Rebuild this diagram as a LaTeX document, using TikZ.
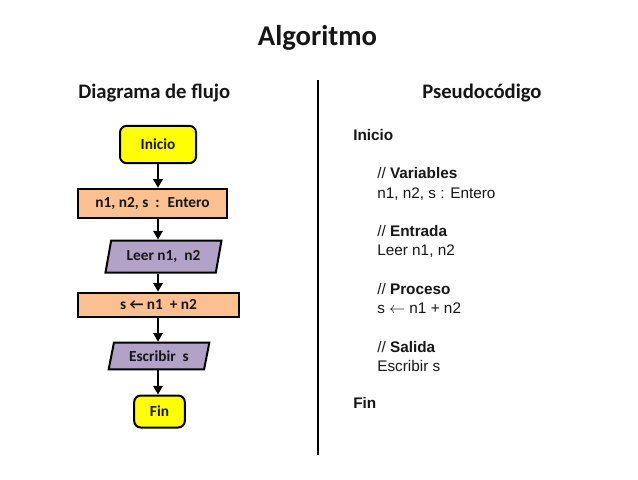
\documentclass[tikz,border=0pt]{standalone}
\usepackage{fontspec}
\setmainfont{Carlito}
\newfontfamily\pseudofont{Liberation Sans}
\usetikzlibrary{positioning, arrows.meta, shapes.geometric}
\definecolor{amarillo}{RGB}{255,255,0}
\definecolor{salmon}{RGB}{250,192,144}
\definecolor{lila}{RGB}{179,162,199}
\definecolor{tinta}{RGB}{22,22,22}
\tikzset{
  >={Triangle[length=6.5pt, width=7pt]},
  bloque/.style={draw, line width=1.5pt, inner sep=2pt, text=tinta, font=\fontsize{11.5}{14}\selectfont\bfseries},
  terminal/.style={bloque, rounded corners=5pt, fill=amarillo},
  proceso/.style={bloque, fill=salmon},
  entsal/.style={bloque, trapezium, trapezium left angle=72, trapezium right angle=108, trapezium stretches body, fill=lila},
  titulo/.style={anchor=base west, inner sep=0pt, text=tinta, font=\fontsize{15.5}{18}\selectfont\bfseries},
  codigo/.style={anchor=base west, inner sep=0pt, text=tinta, font=\pseudofont\fontsize{11.5}{14}\selectfont},
  flecha/.style={->, line width=1.7pt},
}

\begin{document}
\begin{tikzpicture}[x=0.75pt, y=-0.75pt]
  \useasboundingbox (0,0) rectangle (638,479);

  % titulos
  \node[anchor=base, inner sep=0pt, text=tinta, font=\fontsize{21.5}{24}\selectfont\bfseries] (alg) at (317.5,45) {Algoritmo};
  \node[titulo] (diag) at (78,98) {Diagrama de flujo};
  \node[titulo] (pseudo) at (422,98) {Pseudocódigo};

  % separador
  \coordinate (sepa) at (318,80);
  \coordinate (sepb) at (318,455);
  \draw[line width=0.9pt] (sepa) -- (sepb);

  % diagrama de flujo
  \node[terminal, minimum width=57pt, minimum height=28pt] (ini) at (158,144.5) {Inicio};
  \node[proceso, minimum width=112pt, minimum height=22pt] (decl) at (152.5,203.5) {n1, n2, s~~: ~Entero};
  \node[entsal, minimum width=87pt, minimum height=24pt] (leer) at (163.5,256.5) {Leer n1,~~n2};
  \node[proceso, minimum width=121pt, minimum height=18.5pt] (suma) at (158.5,305) {s ← n1~~+ n2};
  \node[entsal, minimum width=75.5pt, minimum height=20pt] (escr) at (159,356) {Escribir~~s};
  \node[terminal, minimum width=38pt, minimum height=24pt] (fin) at (159.5,411.5) {Fin};

  \draw[flecha] (ini.south) -- (ini.south |- decl.north);
  \draw[flecha] (ini.south |- decl.south) -- (ini.south |- leer.north);
  \draw[flecha] (ini.south |- leer.south) -- (ini.south |- suma.north);
  \draw[flecha] (ini.south |- suma.south) -- (ini.south |- escr.north);
  \draw[flecha] (ini.south |- escr.south) -- (ini.south |- fin.north);

  % pseudocodigo
  \node[codigo] (cini) at (353,140) {\bfseries Inicio};
  \node[codigo] (c1) at (377,178) {// \textbf{Variables}};
  \node[codigo] (c2) at (377,198) {n1, n2, s : Entero};
  \node[codigo] (c3) at (377,236) {// \textbf{Entrada}};
  \node[codigo] (c4) at (377,255) {Leer n1, n2};
  \node[codigo] (c5) at (377,294) {// \textbf{Proceso}};
  \node[codigo] (c6) at (377,313) {s $\leftarrow$ n1 + n2};
  \node[codigo] (c7) at (377,352) {// \textbf{Salida}};
  \node[codigo] (c8) at (377,371) {Escribir s};
  \node[codigo] (cfin) at (353,408) {\bfseries Fin};
\end{tikzpicture}
\end{document}
